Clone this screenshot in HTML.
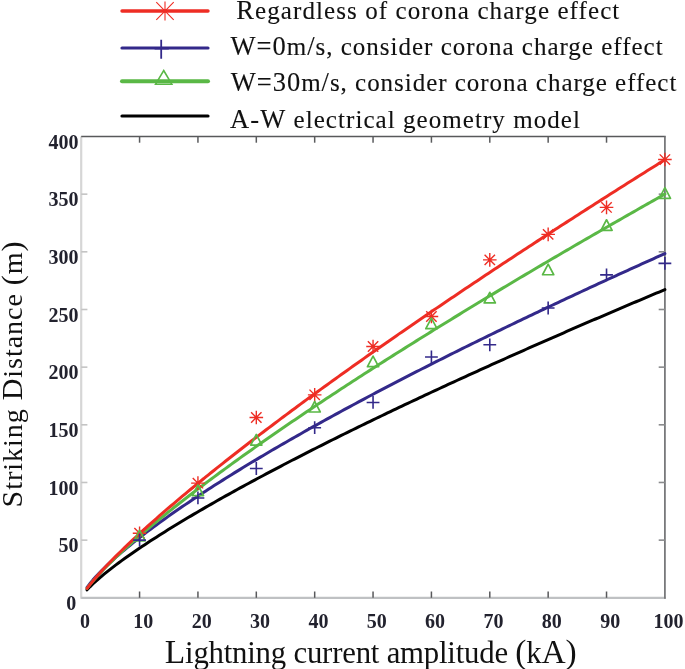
<!DOCTYPE html>
<html><head><meta charset="utf-8"><title>Striking distance vs lightning current</title>
<style>html,body{margin:0;padding:0;background:#fff;width:685px;height:669px;overflow:hidden}svg{display:block}</style>
</head><body>
<svg width="685" height="669" viewBox="0 0 685 669">
<rect width="685" height="669" fill="#fff"/>
<line x1="81.2" y1="136.5" x2="81.2" y2="598.8" stroke="#d6d6d6" stroke-width="2.2"/>
<line x1="81.2" y1="597.8" x2="665.9" y2="597.8" stroke="#bfc1c3" stroke-width="2.2"/>
<line x1="81.2" y1="136.5" x2="665.7" y2="136.5" stroke="#58595b" stroke-width="1.7"/>
<line x1="664.9" y1="136.5" x2="664.9" y2="598.8" stroke="#78797b" stroke-width="1.8"/>
<line x1="139.57" y1="136.50" x2="139.57" y2="142.70" stroke="#5a5b5d" stroke-width="1.5"/>
<line x1="139.57" y1="597.80" x2="139.57" y2="591.50" stroke="#58595b" stroke-width="1.5"/>
<line x1="197.94" y1="136.50" x2="197.94" y2="142.70" stroke="#5a5b5d" stroke-width="1.5"/>
<line x1="197.94" y1="597.80" x2="197.94" y2="591.50" stroke="#58595b" stroke-width="1.5"/>
<line x1="256.31" y1="136.50" x2="256.31" y2="142.70" stroke="#5a5b5d" stroke-width="1.5"/>
<line x1="256.31" y1="597.80" x2="256.31" y2="591.50" stroke="#58595b" stroke-width="1.5"/>
<line x1="314.68" y1="136.50" x2="314.68" y2="142.70" stroke="#5a5b5d" stroke-width="1.5"/>
<line x1="314.68" y1="597.80" x2="314.68" y2="591.50" stroke="#58595b" stroke-width="1.5"/>
<line x1="373.05" y1="136.50" x2="373.05" y2="142.70" stroke="#5a5b5d" stroke-width="1.5"/>
<line x1="373.05" y1="597.80" x2="373.05" y2="591.50" stroke="#58595b" stroke-width="1.5"/>
<line x1="431.42" y1="136.50" x2="431.42" y2="142.70" stroke="#5a5b5d" stroke-width="1.5"/>
<line x1="431.42" y1="597.80" x2="431.42" y2="591.50" stroke="#58595b" stroke-width="1.5"/>
<line x1="489.79" y1="136.50" x2="489.79" y2="142.70" stroke="#5a5b5d" stroke-width="1.5"/>
<line x1="489.79" y1="597.80" x2="489.79" y2="591.50" stroke="#58595b" stroke-width="1.5"/>
<line x1="548.16" y1="136.50" x2="548.16" y2="142.70" stroke="#5a5b5d" stroke-width="1.5"/>
<line x1="548.16" y1="597.80" x2="548.16" y2="591.50" stroke="#58595b" stroke-width="1.5"/>
<line x1="606.53" y1="136.50" x2="606.53" y2="142.70" stroke="#5a5b5d" stroke-width="1.5"/>
<line x1="606.53" y1="597.80" x2="606.53" y2="591.50" stroke="#58595b" stroke-width="1.5"/>
<line x1="81.20" y1="540.14" x2="87.40" y2="540.14" stroke="#c4c4c4" stroke-width="1.6"/>
<line x1="664.90" y1="540.14" x2="658.70" y2="540.14" stroke="#8a8b8d" stroke-width="1.6"/>
<line x1="81.20" y1="482.47" x2="87.40" y2="482.47" stroke="#c4c4c4" stroke-width="1.6"/>
<line x1="664.90" y1="482.47" x2="658.70" y2="482.47" stroke="#8a8b8d" stroke-width="1.6"/>
<line x1="81.20" y1="424.81" x2="87.40" y2="424.81" stroke="#c4c4c4" stroke-width="1.6"/>
<line x1="664.90" y1="424.81" x2="658.70" y2="424.81" stroke="#8a8b8d" stroke-width="1.6"/>
<line x1="81.20" y1="367.15" x2="87.40" y2="367.15" stroke="#c4c4c4" stroke-width="1.6"/>
<line x1="664.90" y1="367.15" x2="658.70" y2="367.15" stroke="#8a8b8d" stroke-width="1.6"/>
<line x1="81.20" y1="309.49" x2="87.40" y2="309.49" stroke="#c4c4c4" stroke-width="1.6"/>
<line x1="664.90" y1="309.49" x2="658.70" y2="309.49" stroke="#8a8b8d" stroke-width="1.6"/>
<line x1="81.20" y1="251.82" x2="87.40" y2="251.82" stroke="#c4c4c4" stroke-width="1.6"/>
<line x1="664.90" y1="251.82" x2="658.70" y2="251.82" stroke="#8a8b8d" stroke-width="1.6"/>
<line x1="81.20" y1="194.16" x2="87.40" y2="194.16" stroke="#c4c4c4" stroke-width="1.6"/>
<line x1="664.90" y1="194.16" x2="658.70" y2="194.16" stroke="#8a8b8d" stroke-width="1.6"/>
<g font-family="Liberation Serif, serif" font-weight="bold" font-size="20" fill="#22222e">
<text x="84.90" y="627.6" text-anchor="middle">0</text>
<text x="143.27" y="627.6" text-anchor="middle">10</text>
<text x="201.64" y="627.6" text-anchor="middle">20</text>
<text x="260.01" y="627.6" text-anchor="middle">30</text>
<text x="318.38" y="627.6" text-anchor="middle">40</text>
<text x="376.75" y="627.6" text-anchor="middle">50</text>
<text x="435.12" y="627.6" text-anchor="middle">60</text>
<text x="493.49" y="627.6" text-anchor="middle">70</text>
<text x="551.86" y="627.6" text-anchor="middle">80</text>
<text x="610.23" y="627.6" text-anchor="middle">90</text>
<text x="668.60" y="627.6" text-anchor="middle">100</text>
<text x="76.3" y="610.00" text-anchor="end">0</text>
<text x="78.6" y="552.34" text-anchor="end">50</text>
<text x="78.6" y="494.67" text-anchor="end">100</text>
<text x="78.6" y="437.01" text-anchor="end">150</text>
<text x="78.6" y="379.35" text-anchor="end">200</text>
<text x="78.6" y="321.69" text-anchor="end">250</text>
<text x="78.6" y="264.02" text-anchor="end">300</text>
<text x="78.6" y="206.36" text-anchor="end">350</text>
<text x="78.6" y="148.70" text-anchor="end">400</text>
</g>
<path d="M87.04,589.81 L89.93,586.81 L92.82,584.01 L95.70,581.35 L98.59,578.80 L101.48,576.34 L104.37,573.95 L107.26,571.62 L110.15,569.34 L113.04,567.11 L115.93,564.92 L118.82,562.77 L121.71,560.65 L124.60,558.57 L127.49,556.51 L130.38,554.48 L133.27,552.47 L136.16,550.49 L139.04,548.52 L141.93,546.58 L144.82,544.66 L147.71,542.75 L150.60,540.86 L153.49,538.99 L156.38,537.14 L159.27,535.29 L162.16,533.47 L165.05,531.65 L167.94,529.85 L170.83,528.06 L173.72,526.28 L176.61,524.52 L179.50,522.76 L182.38,521.02 L185.27,519.29 L188.16,517.56 L191.05,515.85 L193.94,514.14 L196.83,512.45 L199.72,510.76 L202.61,509.08 L205.50,507.41 L208.39,505.75 L211.28,504.09 L214.17,502.45 L217.06,500.81 L219.95,499.18 L222.83,497.55 L225.72,495.93 L228.61,494.32 L231.50,492.71 L234.39,491.12 L237.28,489.52 L240.17,487.94 L243.06,486.36 L245.95,484.78 L248.84,483.21 L251.73,481.65 L254.62,480.09 L257.51,478.54 L260.40,476.99 L263.29,475.45 L266.17,473.91 L269.06,472.38 L271.95,470.85 L274.84,469.33 L277.73,467.81 L280.62,466.30 L283.51,464.79 L286.40,463.28 L289.29,461.78 L292.18,460.29 L295.07,458.80 L297.96,457.31 L300.85,455.82 L303.74,454.35 L306.62,452.87 L309.51,451.40 L312.40,449.93 L315.29,448.47 L318.18,447.01 L321.07,445.55 L323.96,444.10 L326.85,442.65 L329.74,441.20 L332.63,439.76 L335.52,438.32 L338.41,436.89 L341.30,435.46 L344.19,434.03 L347.08,432.60 L349.96,431.18 L352.85,429.76 L355.74,428.35 L358.63,426.93 L361.52,425.52 L364.41,424.12 L367.30,422.71 L370.19,421.31 L373.08,419.91 L375.97,418.52 L378.86,417.13 L381.75,415.74 L384.64,414.35 L387.53,412.97 L390.42,411.58 L393.30,410.21 L396.19,408.83 L399.08,407.46 L401.97,406.08 L404.86,404.72 L407.75,403.35 L410.64,401.99 L413.53,400.63 L416.42,399.27 L419.31,397.91 L422.20,396.56 L425.09,395.21 L427.98,393.86 L430.87,392.51 L433.75,391.17 L436.64,389.83 L439.53,388.49 L442.42,387.15 L445.31,385.81 L448.20,384.48 L451.09,383.15 L453.98,381.82 L456.87,380.49 L459.76,379.17 L462.65,377.85 L465.54,376.53 L468.43,375.21 L471.32,373.89 L474.21,372.58 L477.09,371.27 L479.98,369.96 L482.87,368.65 L485.76,367.34 L488.65,366.04 L491.54,364.74 L494.43,363.43 L497.32,362.14 L500.21,360.84 L503.10,359.54 L505.99,358.25 L508.88,356.96 L511.77,355.67 L514.66,354.38 L517.54,353.10 L520.43,351.81 L523.32,350.53 L526.21,349.25 L529.10,347.97 L531.99,346.69 L534.88,345.42 L537.77,344.14 L540.66,342.87 L543.55,341.60 L546.44,340.33 L549.33,339.06 L552.22,337.80 L555.11,336.53 L558.00,335.27 L560.88,334.01 L563.77,332.75 L566.66,331.49 L569.55,330.24 L572.44,328.98 L575.33,327.73 L578.22,326.48 L581.11,325.23 L584.00,323.98 L586.89,322.73 L589.78,321.49 L592.67,320.24 L595.56,319.00 L598.45,317.76 L601.34,316.52 L604.22,315.28 L607.11,314.04 L610.00,312.81 L612.89,311.57 L615.78,310.34 L618.67,309.11 L621.56,307.88 L624.45,306.65 L627.34,305.42 L630.23,304.19 L633.12,302.97 L636.01,301.75 L638.90,300.52 L641.79,299.30 L644.67,298.08 L647.56,296.87 L650.45,295.65 L653.34,294.43 L656.23,293.22 L659.12,292.01 L662.01,290.79 L664.90,289.58" stroke="#000" stroke-width="3.0" fill="none" stroke-linecap="round" stroke-linejoin="round"/>
<path d="M87.04,587.30 L89.93,583.56 L92.82,580.11 L95.70,576.87 L98.59,573.78 L101.48,570.81 L104.37,567.95 L107.26,565.17 L110.15,562.46 L113.04,559.82 L115.93,557.24 L118.82,554.70 L121.71,552.22 L124.60,549.78 L127.49,547.37 L130.38,545.00 L133.27,542.67 L136.16,540.37 L139.04,538.09 L141.93,535.85 L144.82,533.63 L147.71,531.43 L150.60,529.25 L153.49,527.10 L156.38,524.97 L159.27,522.86 L162.16,520.77 L165.05,518.69 L167.94,516.64 L170.83,514.60 L173.72,512.57 L176.61,510.56 L179.50,508.57 L182.38,506.59 L185.27,504.62 L188.16,502.67 L191.05,500.72 L193.94,498.80 L196.83,496.88 L199.72,494.97 L202.61,493.08 L205.50,491.20 L208.39,489.32 L211.28,487.46 L214.17,485.61 L217.06,483.77 L219.95,481.93 L222.83,480.11 L225.72,478.29 L228.61,476.49 L231.50,474.69 L234.39,472.90 L237.28,471.12 L240.17,469.35 L243.06,467.58 L245.95,465.82 L248.84,464.07 L251.73,462.33 L254.62,460.60 L257.51,458.87 L260.40,457.14 L263.29,455.43 L266.17,453.72 L269.06,452.02 L271.95,450.32 L274.84,448.63 L277.73,446.95 L280.62,445.27 L283.51,443.60 L286.40,441.93 L289.29,440.27 L292.18,438.62 L295.07,436.97 L297.96,435.33 L300.85,433.69 L303.74,432.05 L306.62,430.43 L309.51,428.80 L312.40,427.18 L315.29,425.57 L318.18,423.96 L321.07,422.36 L323.96,420.76 L326.85,419.16 L329.74,417.57 L332.63,415.99 L335.52,414.41 L338.41,412.83 L341.30,411.26 L344.19,409.69 L347.08,408.13 L349.96,406.57 L352.85,405.01 L355.74,403.46 L358.63,401.91 L361.52,400.37 L364.41,398.83 L367.30,397.29 L370.19,395.76 L373.08,394.23 L375.97,392.70 L378.86,391.18 L381.75,389.66 L384.64,388.15 L387.53,386.64 L390.42,385.13 L393.30,383.63 L396.19,382.13 L399.08,380.63 L401.97,379.13 L404.86,377.64 L407.75,376.16 L410.64,374.67 L413.53,373.19 L416.42,371.71 L419.31,370.24 L422.20,368.76 L425.09,367.29 L427.98,365.83 L430.87,364.37 L433.75,362.91 L436.64,361.45 L439.53,359.99 L442.42,358.54 L445.31,357.09 L448.20,355.65 L451.09,354.20 L453.98,352.76 L456.87,351.33 L459.76,349.89 L462.65,348.46 L465.54,347.03 L468.43,345.60 L471.32,344.18 L474.21,342.75 L477.09,341.33 L479.98,339.92 L482.87,338.50 L485.76,337.09 L488.65,335.68 L491.54,334.27 L494.43,332.87 L497.32,331.46 L500.21,330.06 L503.10,328.67 L505.99,327.27 L508.88,325.88 L511.77,324.49 L514.66,323.10 L517.54,321.71 L520.43,320.33 L523.32,318.95 L526.21,317.57 L529.10,316.19 L531.99,314.81 L534.88,313.44 L537.77,312.07 L540.66,310.70 L543.55,309.33 L546.44,307.97 L549.33,306.60 L552.22,305.24 L555.11,303.88 L558.00,302.53 L560.88,301.17 L563.77,299.82 L566.66,298.47 L569.55,297.12 L572.44,295.77 L575.33,294.43 L578.22,293.08 L581.11,291.74 L584.00,290.40 L586.89,289.06 L589.78,287.73 L592.67,286.39 L595.56,285.06 L598.45,283.73 L601.34,282.40 L604.22,281.08 L607.11,279.75 L610.00,278.43 L612.89,277.11 L615.78,275.79 L618.67,274.47 L621.56,273.15 L624.45,271.84 L627.34,270.52 L630.23,269.21 L633.12,267.90 L636.01,266.60 L638.90,265.29 L641.79,263.99 L644.67,262.68 L647.56,261.38 L650.45,260.08 L653.34,258.78 L656.23,257.49 L659.12,256.19 L662.01,254.90 L664.90,253.61" stroke="#33298a" stroke-width="3.0" fill="none" stroke-linecap="round" stroke-linejoin="round"/>
<path d="M87.04,588.33 L89.93,584.65 L92.82,581.20 L95.70,577.91 L98.59,574.74 L101.48,571.66 L104.37,568.67 L107.26,565.74 L110.15,562.87 L113.04,560.06 L115.93,557.29 L118.82,554.57 L121.71,551.88 L124.60,549.23 L127.49,546.61 L130.38,544.02 L133.27,541.46 L136.16,538.92 L139.04,536.41 L141.93,533.93 L144.82,531.46 L147.71,529.02 L150.60,526.59 L153.49,524.18 L156.38,521.80 L159.27,519.42 L162.16,517.07 L165.05,514.73 L167.94,512.40 L170.83,510.09 L173.72,507.80 L176.61,505.51 L179.50,503.24 L182.38,500.98 L185.27,498.74 L188.16,496.50 L191.05,494.28 L193.94,492.06 L196.83,489.86 L199.72,487.67 L202.61,485.49 L205.50,483.31 L208.39,481.15 L211.28,478.99 L214.17,476.85 L217.06,474.71 L219.95,472.58 L222.83,470.46 L225.72,468.35 L228.61,466.24 L231.50,464.15 L234.39,462.06 L237.28,459.97 L240.17,457.90 L243.06,455.83 L245.95,453.77 L248.84,451.71 L251.73,449.67 L254.62,447.62 L257.51,445.59 L260.40,443.56 L263.29,441.54 L266.17,439.52 L269.06,437.51 L271.95,435.50 L274.84,433.50 L277.73,431.51 L280.62,429.52 L283.51,427.53 L286.40,425.55 L289.29,423.58 L292.18,421.61 L295.07,419.65 L297.96,417.69 L300.85,415.74 L303.74,413.79 L306.62,411.84 L309.51,409.90 L312.40,407.97 L315.29,406.04 L318.18,404.11 L321.07,402.19 L323.96,400.27 L326.85,398.36 L329.74,396.45 L332.63,394.54 L335.52,392.64 L338.41,390.74 L341.30,388.85 L344.19,386.96 L347.08,385.08 L349.96,383.20 L352.85,381.32 L355.74,379.44 L358.63,377.57 L361.52,375.71 L364.41,373.84 L367.30,371.98 L370.19,370.13 L373.08,368.27 L375.97,366.42 L378.86,364.58 L381.75,362.73 L384.64,360.89 L387.53,359.06 L390.42,357.22 L393.30,355.39 L396.19,353.57 L399.08,351.74 L401.97,349.92 L404.86,348.11 L407.75,346.29 L410.64,344.48 L413.53,342.67 L416.42,340.86 L419.31,339.06 L422.20,337.26 L425.09,335.46 L427.98,333.67 L430.87,331.88 L433.75,330.09 L436.64,328.30 L439.53,326.52 L442.42,324.74 L445.31,322.96 L448.20,321.18 L451.09,319.41 L453.98,317.64 L456.87,315.87 L459.76,314.11 L462.65,312.34 L465.54,310.58 L468.43,308.82 L471.32,307.07 L474.21,305.32 L477.09,303.56 L479.98,301.82 L482.87,300.07 L485.76,298.33 L488.65,296.58 L491.54,294.85 L494.43,293.11 L497.32,291.37 L500.21,289.64 L503.10,287.91 L505.99,286.18 L508.88,284.46 L511.77,282.73 L514.66,281.01 L517.54,279.29 L520.43,277.57 L523.32,275.86 L526.21,274.15 L529.10,272.43 L531.99,270.73 L534.88,269.02 L537.77,267.31 L540.66,265.61 L543.55,263.91 L546.44,262.21 L549.33,260.51 L552.22,258.82 L555.11,257.12 L558.00,255.43 L560.88,253.74 L563.77,252.06 L566.66,250.37 L569.55,248.69 L572.44,247.00 L575.33,245.32 L578.22,243.65 L581.11,241.97 L584.00,240.29 L586.89,238.62 L589.78,236.95 L592.67,235.28 L595.56,233.61 L598.45,231.95 L601.34,230.28 L604.22,228.62 L607.11,226.96 L610.00,225.30 L612.89,223.64 L615.78,221.99 L618.67,220.33 L621.56,218.68 L624.45,217.03 L627.34,215.38 L630.23,213.73 L633.12,212.09 L636.01,210.44 L638.90,208.80 L641.79,207.16 L644.67,205.52 L647.56,203.88 L650.45,202.24 L653.34,200.61 L656.23,198.97 L659.12,197.34 L662.01,195.71 L664.90,194.08" stroke="#5ab846" stroke-width="3.0" fill="none" stroke-linecap="round" stroke-linejoin="round"/>
<path d="M87.04,588.39 L89.93,584.64 L92.82,581.10 L95.70,577.70 L98.59,574.41 L101.48,571.21 L104.37,568.09 L107.26,565.03 L110.15,562.02 L113.04,559.07 L115.93,556.16 L118.82,553.29 L121.71,550.46 L124.60,547.66 L127.49,544.89 L130.38,542.15 L133.27,539.43 L136.16,536.74 L139.04,534.08 L141.93,531.43 L144.82,528.81 L147.71,526.21 L150.60,523.62 L153.49,521.06 L156.38,518.51 L159.27,515.97 L162.16,513.46 L165.05,510.95 L167.94,508.46 L170.83,505.99 L173.72,503.53 L176.61,501.08 L179.50,498.64 L182.38,496.22 L185.27,493.80 L188.16,491.40 L191.05,489.01 L193.94,486.63 L196.83,484.26 L199.72,481.90 L202.61,479.54 L205.50,477.20 L208.39,474.87 L211.28,472.54 L214.17,470.23 L217.06,467.92 L219.95,465.62 L222.83,463.33 L225.72,461.04 L228.61,458.77 L231.50,456.50 L234.39,454.24 L237.28,451.98 L240.17,449.73 L243.06,447.49 L245.95,445.26 L248.84,443.03 L251.73,440.81 L254.62,438.59 L257.51,436.38 L260.40,434.18 L263.29,431.98 L266.17,429.79 L269.06,427.61 L271.95,425.43 L274.84,423.25 L277.73,421.08 L280.62,418.92 L283.51,416.76 L286.40,414.60 L289.29,412.46 L292.18,410.31 L295.07,408.17 L297.96,406.04 L300.85,403.91 L303.74,401.78 L306.62,399.66 L309.51,397.55 L312.40,395.44 L315.29,393.33 L318.18,391.23 L321.07,389.13 L323.96,387.04 L326.85,384.95 L329.74,382.86 L332.63,380.78 L335.52,378.70 L338.41,376.63 L341.30,374.56 L344.19,372.49 L347.08,370.43 L349.96,368.37 L352.85,366.31 L355.74,364.26 L358.63,362.21 L361.52,360.17 L364.41,358.13 L367.30,356.09 L370.19,354.06 L373.08,352.03 L375.97,350.00 L378.86,347.97 L381.75,345.95 L384.64,343.94 L387.53,341.92 L390.42,339.91 L393.30,337.90 L396.19,335.90 L399.08,333.89 L401.97,331.90 L404.86,329.90 L407.75,327.91 L410.64,325.92 L413.53,323.93 L416.42,321.94 L419.31,319.96 L422.20,317.98 L425.09,316.01 L427.98,314.03 L430.87,312.06 L433.75,310.10 L436.64,308.13 L439.53,306.17 L442.42,304.21 L445.31,302.25 L448.20,300.30 L451.09,298.35 L453.98,296.40 L456.87,294.45 L459.76,292.50 L462.65,290.56 L465.54,288.62 L468.43,286.68 L471.32,284.75 L474.21,282.82 L477.09,280.89 L479.98,278.96 L482.87,277.03 L485.76,275.11 L488.65,273.19 L491.54,271.27 L494.43,269.36 L497.32,267.44 L500.21,265.53 L503.10,263.62 L505.99,261.71 L508.88,259.81 L511.77,257.90 L514.66,256.00 L517.54,254.10 L520.43,252.21 L523.32,250.31 L526.21,248.42 L529.10,246.53 L531.99,244.64 L534.88,242.75 L537.77,240.87 L540.66,238.98 L543.55,237.10 L546.44,235.22 L549.33,233.35 L552.22,231.47 L555.11,229.60 L558.00,227.73 L560.88,225.86 L563.77,223.99 L566.66,222.12 L569.55,220.26 L572.44,218.40 L575.33,216.54 L578.22,214.68 L581.11,212.82 L584.00,210.97 L586.89,209.12 L589.78,207.26 L592.67,205.42 L595.56,203.57 L598.45,201.72 L601.34,199.88 L604.22,198.03 L607.11,196.19 L610.00,194.35 L612.89,192.52 L615.78,190.68 L618.67,188.85 L621.56,187.01 L624.45,185.18 L627.34,183.35 L630.23,181.53 L633.12,179.70 L636.01,177.87 L638.90,176.05 L641.79,174.23 L644.67,172.41 L647.56,170.59 L650.45,168.77 L653.34,166.96 L656.23,165.15 L659.12,163.33 L662.01,161.52 L664.90,159.71" stroke="#ee2d24" stroke-width="3.0" fill="none" stroke-linecap="round" stroke-linejoin="round"/>
<path d="M139.57,526.42V540.02M132.77,533.22H146.37M134.37,528.02L144.77,538.42M144.77,528.02L134.37,538.42" stroke="#ee2d24" stroke-width="1.4" fill="none"/>
<path d="M197.94,476.37V489.97M191.14,483.17H204.74M192.74,477.97L203.14,488.37M203.14,477.97L192.74,488.37" stroke="#ee2d24" stroke-width="1.4" fill="none"/>
<path d="M256.31,410.75V424.35M249.51,417.55H263.11M251.11,412.35L261.51,422.75M261.51,412.35L251.11,422.75" stroke="#ee2d24" stroke-width="1.4" fill="none"/>
<path d="M314.68,388.03V401.63M307.88,394.83H321.48M309.48,389.63L319.88,400.03M319.88,389.63L309.48,400.03" stroke="#ee2d24" stroke-width="1.4" fill="none"/>
<path d="M373.05,339.71V353.31M366.25,346.51H379.85M367.85,341.31L378.25,351.71M378.25,341.31L367.85,351.71" stroke="#ee2d24" stroke-width="1.4" fill="none"/>
<path d="M431.42,309.72V323.32M424.62,316.52H438.22M426.22,311.32L436.62,321.72M436.62,311.32L426.22,321.72" stroke="#ee2d24" stroke-width="1.4" fill="none"/>
<path d="M489.79,253.10V266.70M482.99,259.90H496.59M484.59,254.70L494.99,265.10M494.99,254.70L484.59,265.10" stroke="#ee2d24" stroke-width="1.4" fill="none"/>
<path d="M548.16,227.61V241.21M541.36,234.41H554.96M542.96,229.21L553.36,239.61M553.36,229.21L542.96,239.61" stroke="#ee2d24" stroke-width="1.4" fill="none"/>
<path d="M606.53,200.62V214.22M599.73,207.42H613.33M601.33,202.22L611.73,212.62M611.73,202.22L601.33,212.62" stroke="#ee2d24" stroke-width="1.4" fill="none"/>
<path d="M664.90,152.77V166.37M658.10,159.57H671.70M659.70,154.37L670.10,164.77M670.10,154.37L659.70,164.77" stroke="#ee2d24" stroke-width="1.4" fill="none"/>
<path d="M139.57,530.22L145.17,540.82L133.97,540.82Z" stroke="#5ab846" stroke-width="1.7" fill="none" stroke-linejoin="round"/>
<path d="M197.94,485.02L203.54,495.62L192.34,495.62Z" stroke="#5ab846" stroke-width="1.7" fill="none" stroke-linejoin="round"/>
<path d="M256.31,434.50L261.91,445.10L250.71,445.10Z" stroke="#5ab846" stroke-width="1.7" fill="none" stroke-linejoin="round"/>
<path d="M314.68,401.41L320.28,412.01L309.08,412.01Z" stroke="#5ab846" stroke-width="1.7" fill="none" stroke-linejoin="round"/>
<path d="M373.05,356.08L378.65,366.68L367.45,366.68Z" stroke="#5ab846" stroke-width="1.7" fill="none" stroke-linejoin="round"/>
<path d="M431.42,318.03L437.02,328.63L425.82,328.63Z" stroke="#5ab846" stroke-width="1.7" fill="none" stroke-linejoin="round"/>
<path d="M489.79,292.31L495.39,302.91L484.19,302.91Z" stroke="#5ab846" stroke-width="1.7" fill="none" stroke-linejoin="round"/>
<path d="M548.16,264.17L553.76,274.77L542.56,274.77Z" stroke="#5ab846" stroke-width="1.7" fill="none" stroke-linejoin="round"/>
<path d="M606.53,219.77L612.13,230.37L600.93,230.37Z" stroke="#5ab846" stroke-width="1.7" fill="none" stroke-linejoin="round"/>
<path d="M664.90,187.71L670.50,198.31L659.30,198.31Z" stroke="#5ab846" stroke-width="1.7" fill="none" stroke-linejoin="round"/>
<path d="M139.57,533.74V546.54M133.17,540.14H145.97" stroke="#33298a" stroke-width="1.6" fill="none"/>
<path d="M197.94,491.53V504.33M191.54,497.93H204.34" stroke="#33298a" stroke-width="1.6" fill="none"/>
<path d="M256.31,462.12V474.92M249.91,468.52H262.71" stroke="#33298a" stroke-width="1.6" fill="none"/>
<path d="M314.68,421.30V434.10M308.28,427.70H321.08" stroke="#33298a" stroke-width="1.6" fill="none"/>
<path d="M373.05,396.04V408.84M366.65,402.44H379.45" stroke="#33298a" stroke-width="1.6" fill="none"/>
<path d="M431.42,350.60V363.40M425.02,357.00H437.82" stroke="#33298a" stroke-width="1.6" fill="none"/>
<path d="M489.79,338.38V351.18M483.39,344.78H496.19" stroke="#33298a" stroke-width="1.6" fill="none"/>
<path d="M548.16,301.59V314.39M541.76,307.99H554.56" stroke="#33298a" stroke-width="1.6" fill="none"/>
<path d="M606.53,268.49V281.29M600.13,274.89H612.93" stroke="#33298a" stroke-width="1.6" fill="none"/>
<path d="M664.90,256.96V269.76M658.50,263.36H671.30" stroke="#33298a" stroke-width="1.6" fill="none"/>
<line x1="122.0" y1="11" x2="208.0" y2="11" stroke="#ee2d24" stroke-width="3.4" stroke-linecap="round"/>
<path d="M165,1.6V20.4M156,11H174M156.3,2.2L173.7,19.8M173.7,2.2L156.3,19.8" stroke="#ee2d24" stroke-width="1.1" fill="none"/>
<line x1="122.0" y1="48" x2="208.0" y2="48" stroke="#33298a" stroke-width="3.2" stroke-linecap="round"/>
<path d="M161.2,39.8V58.8M154.6,48.5H168.8" stroke="#33298a" stroke-width="1.8" fill="none"/>
<line x1="122.0" y1="81.2" x2="208.0" y2="81.2" stroke="#5ab846" stroke-width="4" stroke-linecap="round"/>
<path d="M163.7,70.5L171.8,84.2H155.6Z" stroke="#5ab846" stroke-width="1.6" fill="none"/>
<line x1="122.0" y1="116" x2="208.0" y2="116" stroke="#000" stroke-width="3.2" stroke-linecap="round"/>
<g font-family="Liberation Serif, serif" font-size="25.0" fill="#111" stroke="#111" stroke-width="0.12">
<text x="236.3" y="18.7" textLength="383" lengthAdjust="spacing"><tspan font-size="26.5">R</tspan>egardless of corona charge effect</text>
<text x="230.6" y="55.4" textLength="432" lengthAdjust="spacing"><tspan font-size="26.5">W=0</tspan>m<tspan font-size="26.5">/</tspan>s, consider corona charge effect</text>
<text x="230.8" y="90.7" textLength="445.6" lengthAdjust="spacing"><tspan font-size="26.5">W=30</tspan>m<tspan font-size="26.5">/</tspan>s, consider corona charge effect</text>
<text x="230.1" y="127.8" textLength="349.8" lengthAdjust="spacing"><tspan font-size="26.5">A-W</tspan> electrical geometry model</text>
</g>
<text x="164.8" y="662.5" font-family="Liberation Serif, serif" font-size="30.8" fill="#111" textLength="411.8" lengthAdjust="spacing"><tspan font-size="33.5">L</tspan>ightning current amplitude <tspan font-size="33.5">(</tspan>k<tspan font-size="33.5">A)</tspan></text>
<text transform="translate(22.1,507.4) rotate(-90)" x="0" y="0" font-family="Liberation Serif, serif" font-size="28.2" fill="#111" textLength="266" lengthAdjust="spacing"><tspan font-size="30">S</tspan>triking <tspan font-size="30">D</tspan>istance <tspan font-size="30">(</tspan>m<tspan font-size="30">)</tspan></text>
</svg>
</body></html>
